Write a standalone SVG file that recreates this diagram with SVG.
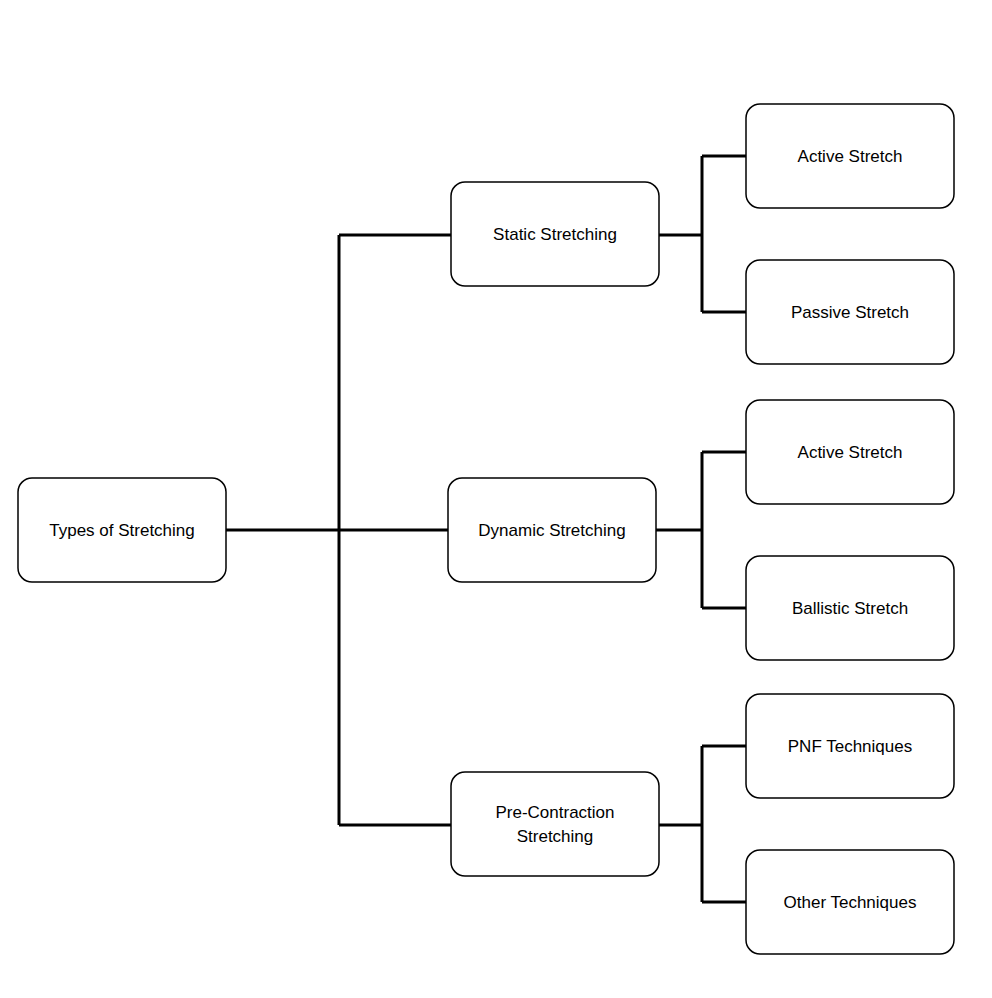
<svg xmlns="http://www.w3.org/2000/svg" width="992" height="998" viewBox="0 0 992 998">
<style>
.n rect{fill:#fff;stroke:#000;stroke-width:1.5}
.n text{font-family:"Liberation Sans",Arial,sans-serif;font-size:17px;fill:#000;text-anchor:middle;dominant-baseline:central}
#c path{fill:none;stroke:#000;stroke-width:3}
</style>
<rect width="992" height="998" fill="#fff"/>
<g id="c">
<path d="M226 530H448"/>
<path d="M339 235V825M339 235H451M339 825H451"/>
<path d="M659 235H702M702 156V312M702 156H746M702 312H746"/>
<path d="M656 530H702M702 452V608M702 452H746M702 608H746"/>
<path d="M659 825H702M702 746V902M702 746H746M702 902H746"/>
</g>
<g id="root" class="n"><rect x="18" y="478" width="208" height="104" rx="14"/><text x="122" y="530">Types of Stretching</text></g>
<g id="static" class="n"><rect x="451" y="182" width="208" height="104" rx="14"/><text x="555" y="234">Static Stretching</text></g>
<g id="dynamic" class="n"><rect x="448" y="478" width="208" height="104" rx="14"/><text x="552" y="530">Dynamic Stretching</text></g>
<g id="pre" class="n"><rect x="451" y="772" width="208" height="104" rx="14"/><text x="555" y="812">Pre-Contraction</text><text x="555" y="836">Stretching</text></g>
<g id="active1" class="n"><rect x="746" y="104" width="208" height="104" rx="14"/><text x="850" y="156">Active Stretch</text></g>
<g id="passive" class="n"><rect x="746" y="260" width="208" height="104" rx="14"/><text x="850" y="312">Passive Stretch</text></g>
<g id="active2" class="n"><rect x="746" y="400" width="208" height="104" rx="14"/><text x="850" y="452">Active Stretch</text></g>
<g id="ballistic" class="n"><rect x="746" y="556" width="208" height="104" rx="14"/><text x="850" y="608">Ballistic Stretch</text></g>
<g id="pnf" class="n"><rect x="746" y="694" width="208" height="104" rx="14"/><text x="850" y="746">PNF Techniques</text></g>
<g id="other" class="n"><rect x="746" y="850" width="208" height="104" rx="14"/><text x="850" y="902">Other Techniques</text></g>
</svg>
